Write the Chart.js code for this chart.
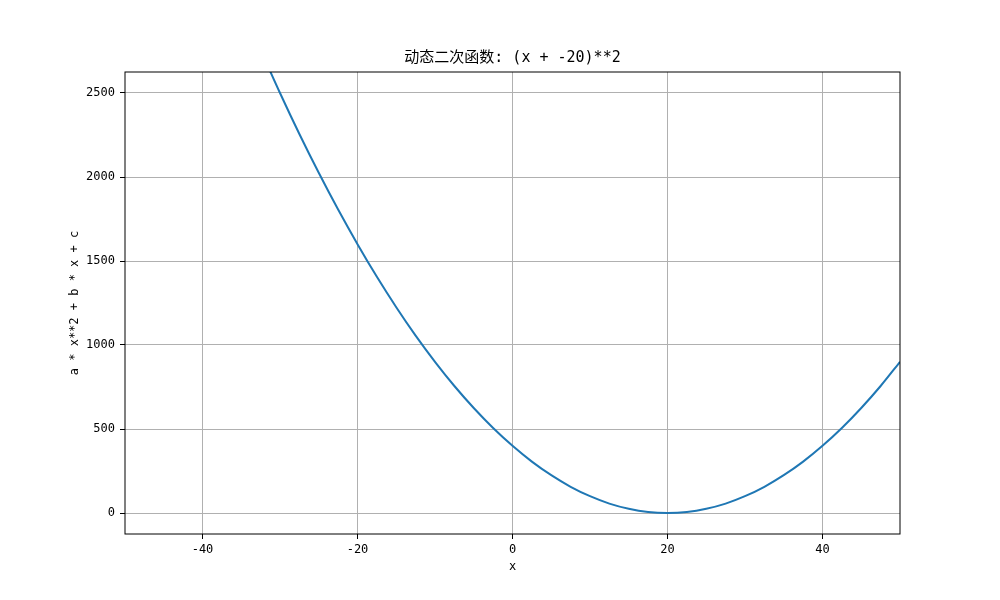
<!DOCTYPE html>
<html>
<head>
<meta charset="utf-8">
<script src="https://cdn.jsdelivr.net/npm/chart.js@4.4.1/dist/chart.umd.min.js"></script>
<style>
  html, body { margin: 0; padding: 0; background: #fff; }
  #wrap { width: 1000px; height: 600px; }
</style>
</head>
<body>
<div id="wrap"><canvas id="quadChart" width="1000" height="600"></canvas></div>
<script>
// values
const xValues = [-32.5, -30, -27.5, -25, -22.5, -20, -17.5, -15, -12.5, -10, -7.5, -5, -2.5,
    0, 2.5, 5, 7.5, 10, 12.5, 15, 17.5, 20, 22.5, 25, 27.5, 30, 32.5, 35, 37.5, 40, 42.5, 45, 47.5, 50];
const yValues = [2756, 2500, 2256, 2025, 1806, 1600, 1406, 1225, 1056, 900, 756, 625, 506,
    400, 306, 225, 156, 100, 56, 25, 6, 0, 6, 25, 56, 100, 156, 225, 306, 400, 506, 625, 756, 900];
const xTicks = [-40, -20, 0, 20, 40];
const yTicks = [0, 500, 1000, 1500, 2000, 2500];

// monospaced latin like SimHei, CJK falls back to Noto
const fontFamily = "'DejaVu Sans Mono', 'Noto Sans CJK SC', sans-serif";

const framePlugin = {
    id: 'frame',
    afterDatasetsDraw(chart) {
        const { ctx, chartArea } = chart;
        ctx.save();
        ctx.strokeStyle = '#000';
        ctx.lineWidth = 1;
        ctx.strokeRect(chartArea.left, chartArea.top, chartArea.right - chartArea.left, chartArea.bottom - chartArea.top);
        ctx.restore();
    }
};

const points = xValues.map((x, i) => ({ x: x, y: yValues[i] }));

new Chart(document.getElementById('quadChart').getContext('2d'), {
    type: 'scatter',
    data: {
        datasets: [{
            data: points,
            showLine: true,
            borderColor: '#1f77b4',
            borderWidth: 2,
            pointRadius: 0,
            cubicInterpolationMode: 'monotone',
            fill: false
        }]
    },
    options: {
        responsive: false,
        animation: false,
        layout: { padding: { left: 0, right: 100, top: 0, bottom: 0 } },
        plugins: {
            legend: { display: false },
            tooltip: { enabled: false },
            title: {
                display: true,
                text: '动态二次函数: (x + -20)**2',
                color: '#000',
                fullSize: false,
                font: { family: fontFamily, size: 15, weight: 'normal', lineHeight: 1.2 },
                padding: { top: 49, bottom: 5 }
            }
        },
        scales: {
            x: {
                type: 'linear',
                min: -50,
                max: 50,
                afterBuildTicks: axis => { axis.ticks = xTicks.map(v => ({ value: v })); },
                afterFit: axis => { axis.height = 66; },
                grid: { color: '#b0b0b0', lineWidth: 1, tickColor: '#000', tickLength: 5 },
                border: { display: false },
                ticks: {
                    color: '#000', padding: 4, maxRotation: 0,
                    font: { family: fontFamily, size: 12 },
                    callback: v => String(v)
                },
                title: {
                    display: true, text: 'x', color: '#000',
                    font: { family: fontFamily, size: 12, lineHeight: 1.2 },
                    padding: { top: 0, bottom: 26 }
                }
            },
            y: {
                type: 'linear',
                min: -125,
                max: 2625,
                afterBuildTicks: axis => { axis.ticks = yTicks.map(v => ({ value: v })); },
                afterFit: axis => { axis.width = 125; },
                grid: { color: '#b0b0b0', lineWidth: 1, tickColor: '#000', tickLength: 5 },
                border: { display: false },
                ticks: {
                    color: '#000', padding: 5,
                    font: { family: fontFamily, size: 12 },
                    callback: v => String(v)
                },
                title: {
                    display: true, text: 'a * x**2 + b * x + c', color: '#000',
                    font: { family: fontFamily, size: 12, lineHeight: 1.2 },
                    padding: { top: 68, bottom: 0 }
                }
            }
        }
    },
    plugins: [framePlugin]
});
</script>
</body>
</html>
